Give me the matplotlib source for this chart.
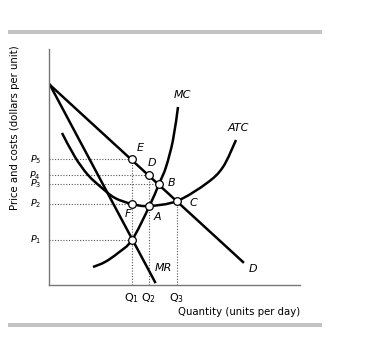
import numpy as np
import matplotlib
matplotlib.use("Agg")
import matplotlib.pyplot as plt
from matplotlib.patches import Rectangle, PathPatch
from matplotlib.path import Path

plt.rcParams['font.family'] = ['DejaVu Sans']
plt.rcParams['mathtext.fontset'] = 'dejavusans'

# curves (quantity, price) in chart units
demand_q = [1, 194]
demand_p = [200, 23]
mr_q = [1, 106]
mr_p = [200, 3]
mc_q = [44, 56, 69, 83, 100, 110, 117, 124, 129]
mc_p = [18, 23, 32, 45, 78, 101, 118, 145, 178]
atc_q = [13, 26, 39, 53, 66, 83, 100, 128, 158, 174, 187]
atc_p = [152, 128, 110, 97, 87, 81, 79, 84, 102, 118, 145]

# key prices and quantities
P = {'P5': 126, 'P4': 110, 'P3': 101, 'P2': 81, 'P1': 45}
Q = {'Q1': 83, 'Q2': 100, 'Q3': 128}

# labelled points: name -> (q, p)
pts = {'E': (83, 126), 'D': (100, 110), 'B': (110, 101), 'C': (128, 84),
       'F': (83, 81), 'A': (100, 79), 'G': (83, 45)}


def smooth_path(xs, ys):
    # catmull-rom through the read points, drawn as bezier segments
    p = np.column_stack([xs, ys]).astype(float)
    verts = [p[0]]
    codes = [Path.MOVETO]
    n = len(p)
    for i in range(n - 1):
        p0 = p[i - 1] if i > 0 else p[i]
        p3 = p[i + 2] if i + 2 < n else p[i + 1]
        c1 = p[i] + (p[i + 1] - p0) / 6
        c2 = p[i + 1] - (p3 - p[i]) / 6
        verts += [c1, c2, p[i + 1]]
        codes += [Path.CURVE4] * 3
    return Path(verts, codes)


fig = plt.figure(figsize=(3.77, 3.52), dpi=100)
W, H = 377, 352
ax = fig.add_axes([49 / W, (H - 285) / H, 251 / W, 236 / H])
ax.set_xlim(0, 251)
ax.set_ylim(0, 236)
for s in ['top', 'right']:
    ax.spines[s].set_visible(False)
for s in ['left', 'bottom']:
    ax.spines[s].set_color('#777777')
    ax.spines[s].set_linewidth(1.0)
ax.set_xticks([])
ax.set_yticks([])

# gray bars
fig.add_artist(Rectangle((8 / W, (H - 34) / H), 314 / W, 4 / H, transform=fig.transFigure,
                         color='#c3c3c3', lw=0))
fig.add_artist(Rectangle((8 / W, (H - 327) / H), 314 / W, 4 / H, transform=fig.transFigure,
                         color='#c3c3c3', lw=0))

dot = dict(color='#555555', ls=(0, (1, 1.5)), lw=0.8, zorder=1)
# horizontal dotted guides
ax.plot([0, pts['E'][0]], [P['P5']] * 2, **dot)
ax.plot([0, pts['D'][0]], [P['P4']] * 2, **dot)
ax.plot([0, pts['B'][0]], [P['P3']] * 2, **dot)
ax.plot([0, pts['F'][0]], [P['P2']] * 2, **dot)
ax.plot([0, pts['G'][0]], [P['P1']] * 2, **dot)
# vertical dotted guides
ax.plot([Q['Q1']] * 2, [0, pts['E'][1]], **dot)
ax.plot([Q['Q2']] * 2, [0, pts['D'][1]], **dot)
ax.plot([Q['Q3']] * 2, [0, pts['C'][1]], **dot)

lw = 1.8
ax.plot(demand_q, demand_p, color='black', lw=lw, zorder=2)
ax.plot(mr_q, mr_p, color='black', lw=lw, zorder=2)
for xs, ys in [(mc_q, mc_p), (atc_q, atc_p)]:
    ax.add_patch(PathPatch(smooth_path(xs, ys), fc='none', ec='black', lw=lw,
                           zorder=2, capstyle='butt'))

for k, (q, p) in pts.items():
    ax.plot(q, p, 'o', ms=5.5, mfc='white', mec='black', mew=0.9, zorder=3)

fs = 8
lbl = {'E': (91, 137), 'D': (103, 122), 'B': (123, 102), 'C': (144, 82),
       'F': (79, 71), 'A': (108, 68)}
for k, (x, y) in lbl.items():
    ax.text(x, y, k, fontsize=fs, style='italic', ha='center', va='center')
ax.text(133, 190, 'MC', fontsize=fs, style='italic', ha='center', va='center')
ax.text(189, 157, 'ATC', fontsize=fs, style='italic', ha='center', va='center')
ax.text(114, 17, 'MR', fontsize=fs, style='italic', ha='center', va='center')
ax.text(204, 16, 'D', fontsize=fs, style='italic', ha='center', va='center')

for k, v in P.items():
    ax.text(-8, v + 1.5, r'$\mathit{P}_{%s}$' % k[1], fontsize=6.8, ha='right',
            va='center_baseline')
for k, v in Q.items():
    ax.text(v, -6, r'$\mathrm{Q}_{%s}$' % k[1], fontsize=fs, ha='center', va='top')

fig.text(300 / W, (H - 312) / H, 'Quantity (units per day)', fontsize=7.3,
         ha='right', va='center')
fig.text(15 / W, (H - 128) / H, 'Price and costs (dollars per unit)', fontsize=7.3,
         rotation=90, ha='center', va='center')

fig.savefig('out.png', dpi=100)
